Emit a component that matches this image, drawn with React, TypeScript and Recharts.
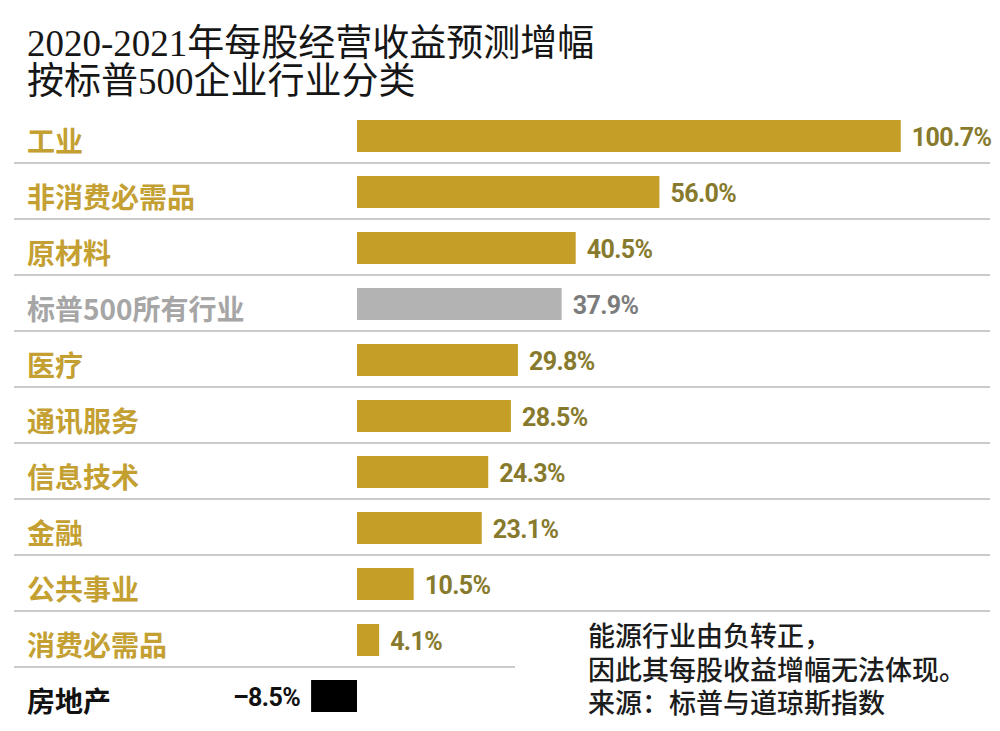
import React from 'react';
import { BarChart, Bar, XAxis, YAxis, Cell, LabelList } from 'recharts';

const categories = ['工业', '非消费必需品', '原材料', '标普500所有行业', '医疗', '通讯服务', '信息技术', '金融', '公共事业', '消费必需品', '房地产'];
const values = [100.7, 56.0, 40.5, 37.9, 29.8, 28.5, 24.3, 23.1, 10.5, 4.1, -8.5];
const kinds = ['sector', 'sector', 'sector', 'index', 'sector', 'sector', 'sector', 'sector', 'sector', 'sector', 'negative'];

const titleLines = ['2020-2021年每股经营收益预测增幅', '按标普500企业行业分类'];
const noteLines = ['能源行业由负转正，', '因此其每股收益增幅无法体现。', '来源：标普与道琼斯指数'];

const palette: Record<string, { bar: string; label: string; value: string }> = {
  sector: { bar: '#c59e28', label: '#c4a032', value: '#877a2d' },
  index: { bar: '#b3b3b3', label: '#a6a6a6', value: '#7c7c7c' },
  negative: { bar: '#000000', label: '#111111', value: '#111111' },
};

const data = categories.map((name, i) => ({ name, value: values[i], kind: kinds[i] }));

const CJK = "'Noto Sans CJK SC', 'Noto Sans', sans-serif";

const renderTick = (props: any) => {
  const { y, payload, index } = props;
  const kind = kinds[index];
  const last = index === categories.length - 1;
  return (
    <g>
      <text
        x={27}
        y={y + 4}
        dominantBaseline="central"
        fontFamily={CJK}
        fontWeight={600}
        fontSize={28}
        fill={palette[kind].label}
      >
        {payload.value}
      </text>
      {!last && (
        <line
          x1={14}
          x2={index === categories.length - 2 ? 515 : 990}
          y1={y + 27}
          y2={y + 27}
          stroke="#cacaca"
          strokeWidth={2}
        />
      )}
    </g>
  );
};

const renderValue = (props: any) => {
  const { x, y, width, height, value, index } = props;
  const left = Math.min(x, x + width);
  const right = Math.max(x, x + width);
  const neg = value < 0;
  const txt = neg ? '–' + Math.abs(value).toFixed(1) + '%' : value.toFixed(1) + '%';
  return (
    <text
      x={neg ? left - 11 : right + 11}
      y={y + height / 2 + 1}
      textAnchor={neg ? 'end' : 'start'}
      dominantBaseline="central"
      fontFamily="Roboto, 'Noto Sans', sans-serif"
      fontWeight={700}
      fontSize={25}
      letterSpacing={-0.6}
      fill={palette[kinds[index]].value}
    >
      {txt}
    </text>
  );
};

export default function App() {
  return (
    <div style={{ position: 'absolute', left: 0, top: 0, width: 1000, height: 731, background: '#fff', overflow: 'hidden' }}>
      <div
        style={{
          position: 'absolute',
          left: 27,
          top: 25,
          fontFamily: "'Liberation Serif', 'DejaVu Serif', 'Noto Sans CJK SC', serif",
          fontSize: 37,
          lineHeight: '38px',
          color: '#161616',
          whiteSpace: 'nowrap',
        }}
      >
        {titleLines.map((t) => (
          <div key={t}>{t}</div>
        ))}
      </div>
      <BarChart
        layout="vertical"
        width={1000}
        height={731}
        data={data}
        margin={{ top: 108, right: 49, bottom: 7, left: 0 }}
      >
        <XAxis type="number" domain={[-50, 110]} hide />
        <YAxis
          type="category"
          dataKey="name"
          width={87}
          axisLine={false}
          tickLine={false}
          interval={0}
          tick={renderTick}
        />
        <Bar dataKey="value" barSize={32} isAnimationActive={false}>
          {data.map((d) => (
            <Cell key={d.name} fill={palette[d.kind].bar} />
          ))}
          <LabelList dataKey="value" content={renderValue} />
        </Bar>
      </BarChart>
      {noteLines.map((t, i) => (
        <div
          key={t}
          style={{
            position: 'absolute',
            left: 588,
            top: 618 + i * 33.5,
            height: 34,
            fontFamily: CJK,
            fontSize: 27,
            fontWeight: 500,
            lineHeight: '34px',
            color: '#1c1c1c',
            whiteSpace: 'nowrap',
          }}
        >
          {t}
        </div>
      ))}
    </div>
  );
}
